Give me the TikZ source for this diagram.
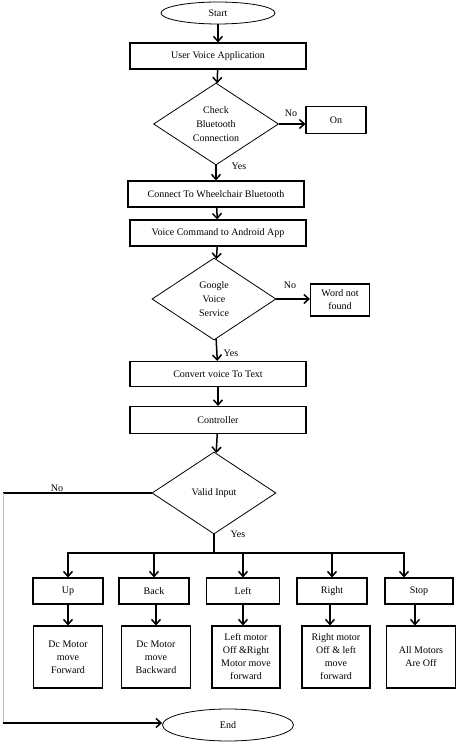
\documentclass[tikz,border=0pt]{standalone}
\usepackage{fontspec}
\setmainfont{Liberation Serif}
\usetikzlibrary{shapes.geometric, arrows.meta, positioning}
\tikzset{process/.style={draw=black, rectangle, line width=1.1pt, minimum width=176pt, minimum height=26pt, inner sep=1pt, align=center, font=\fontsize{10}{13}\selectfont}}
\tikzset{small process/.style={process, minimum width=70pt}}
\tikzset{action/.style={process, minimum width=69pt, minimum height=62pt}}
\tikzset{decision/.style={draw=black, diamond, line width=0.8pt, minimum width=125pt, minimum height=82pt, inner sep=0pt, align=center, font=\fontsize{10}{14}\selectfont}}
\tikzset{terminal/.style={draw=black, ellipse, line width=0.8pt, inner sep=0pt, font=\fontsize{10}{12}\selectfont}}
\tikzset{flow/.style={-{Straight Barb[length=5pt,width=9pt]}, line width=1.5pt}}
\tikzset{answer/.style={font=\fontsize{10}{12}\selectfont, inner sep=0pt}}

\begin{document}
\begin{tikzpicture}[x=1pt, y=-1pt]
\useasboundingbox (0,0) rectangle (474,743);
\node[terminal, minimum width=114pt, minimum height=22pt] (start) at (218,13) {Start};
\node[process] (app) at (218,56) {User Voice Application};
\node[decision] (bt) at (216,124) {Check\\Bluetooth\\Connection};
\node[process, minimum width=60pt, minimum height=27pt] (on) at (336,120) {On};
\node[process] (connect) at (216,194) {Connect To Wheelchair Bluetooth};
\node[process] (command) at (218,233) {Voice Command to Android App};
\node[decision, minimum width=124pt] (google) at (214,299) {Google\\Voice\\Service};
\node[process, minimum width=59pt, minimum height=32pt] (notfound) at (340,300) {Word not\\found};
\node[process, minimum height=25pt] (convert) at (218,374) {Convert voice To Text};
\node[process, minimum height=27pt] (controller) at (218,420) {Controller};
\node[decision, minimum width=124pt] (valid) at (214,493) {Valid Input};
\coordinate (branch) at (214,553);

\node[small process] (up) at (68,591) {Up};
\node[small process] (back) at (154,591) {Back};
\node[small process, minimum width=73pt] (left) at (243,591) {Left};
\node[small process] (right) at (332,591) {Right};
\node[small process, minimum width=68pt] (stop) at (419,591) {Stop};

\node[action] (forward) at (68,657) {Dc Motor\\move\\Forward};
\node[action] (backward) at (156,657) {Dc Motor\\move\\Backward};
\node[action, minimum width=68pt] (leftturn) at (246,657) {Left motor\\Off \&Right\\Motor move\\forward};
\node[action, minimum width=68pt] (rightturn) at (336,657) {Right motor\\Off \& left\\move\\forward};
\node[action] (alloff) at (421,657) {All Motors\\Are Off};

\node[terminal, minimum width=131pt, minimum height=32pt] (end) at (228,725) {End};
\coordinate (noleft) at (3,493);
\coordinate (nobottom) at (3,723);

\draw[flow] (start) -- (app);
\draw[flow] (app) -- (bt);
\draw[flow] (bt.east) -- (bt.east -| on.west);
\draw[flow] (bt) -- (connect);
\draw[flow] (connect) -- (command);
\draw[flow] (command) -- (google);
\draw[flow] (google.east) -- (google.east -| notfound.west);
\draw[flow] (google) -- (convert);
\draw[flow] (convert) -- (controller);
\draw[flow] (controller) -- (valid);
\draw[line width=1.5pt] (valid.south) -- (branch);
\foreach \n in {up, back, left, right}
  \draw[flow] (branch) -| (\n.north);
\draw[flow] (branch) -| ([xshift=-15pt]stop.north);
\draw[flow] (up.south) -- (up.south |- forward.north);
\draw[flow] ([xshift=2pt]back.south) -- ([xshift=2pt]back.south |- backward.north);
\draw[flow] (left.south) -- (left.south |- leftturn.north);
\draw[flow] ([xshift=-2pt]right.south) -- ([xshift=-2pt]right.south |- rightturn.north);
\draw[flow] ([xshift=-4pt]stop.south) -- ([xshift=-4pt]stop.south |- alloff.north);
\draw[line width=1.2pt] (valid.west) -- (noleft);
\draw[black!25, line width=0.8pt] (noleft) -- (nobottom);
\draw[flow] (nobottom) -- (nobottom -| end.west);

\node[answer] (btno) at (291,113) {No};
\node[answer] (btyes) at (239,166) {Yes};
\node[answer] (googleno) at (290,285) {No};
\node[answer] (googleyes) at (231,353) {Yes};
\node[answer] (validno) at (57,488) {No};
\node[answer] (validyes) at (238,534) {Yes};
\end{tikzpicture}
\end{document}
